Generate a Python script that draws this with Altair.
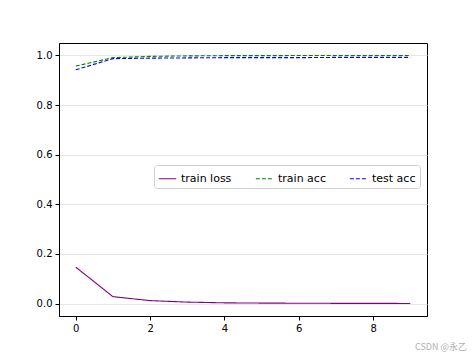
import altair as alt
import pandas as pd

epochs = list(range(10))
train_loss = [0.147, 0.028, 0.012, 0.006, 0.003, 0.002, 0.0015, 0.001, 0.0008, 0.0006]
train_acc = [0.957, 0.991, 0.996, 0.998, 0.999, 0.999, 0.9995, 0.9997, 0.9998, 0.9999]
test_acc = [0.942, 0.987, 0.989, 0.990, 0.991, 0.991, 0.991, 0.992, 0.992, 0.992]
series = ["train loss", "train acc", "test acc"]
colors = ["#800080", "#008000", "#0000ff"]
dashes = [[1, 0], [4, 2], [4, 2]]

rows = []
for name, vals in zip(series, [train_loss, train_acc, test_acc]):
    for e, v in zip(epochs, vals):
        rows.append({"epoch": e, "value": v, "series": name})
df = pd.DataFrame(rows)

lines = alt.Chart(df).mark_line(strokeWidth=1.1, clip=True).encode(
    x=alt.X("epoch:Q", scale=alt.Scale(domain=[-0.45, 9.45], nice=False, zero=False),
            axis=alt.Axis(values=[0, 2, 4, 6, 8], format="d", title=None, grid=False)),
    y=alt.Y("value:Q", scale=alt.Scale(domain=[-0.05, 1.05], nice=False, zero=False),
            axis=alt.Axis(values=[0, 0.2, 0.4, 0.6, 0.8, 1.0], format=".1f", title=None, grid=True)),
    color=alt.Color("series:N", scale=alt.Scale(domain=series, range=colors),
                    legend=alt.Legend(title=None, orient="none", legendX=95, legendY=122,
                                      direction="horizontal", symbolType="stroke",
                                      symbolSize=300, symbolStrokeWidth=1.1,
                                      labelFontSize=11, labelFont="DejaVu Sans",
                                      fillColor="white", strokeColor="#d0d0d0",
                                      cornerRadius=3, padding=4, columnPadding=21,
                                      labelLimit=200)),
    strokeDash=alt.StrokeDash("series:N", scale=alt.Scale(domain=series, range=dashes),
                              legend=None),
    detail="series:N",
)

chart = lines.properties(
    width=368, height=273,
    title=alt.TitleParams("CSDN @永乙", orient="bottom", anchor="end", fontSize=9,
                          color="#b0b0b0", fontWeight="normal", font="Noto Sans CJK SC",
                          offset=10, dx=40),
    autosize=alt.AutoSizeParams(type="none"),
    padding={"left": 59, "top": 43, "right": 47, "bottom": 39},
).configure_view(stroke="black", strokeWidth=1).configure_axis(
    domainColor="black", tickColor="black", labelColor="black", labelFontSize=10,
    labelFont="DejaVu Sans", tickSize=4, labelPadding=3, gridColor="#e6e6e6", gridWidth=1,
    domain=True,
)

chart.save("out.html", embed_options={"renderer": "svg", "actions": False})
